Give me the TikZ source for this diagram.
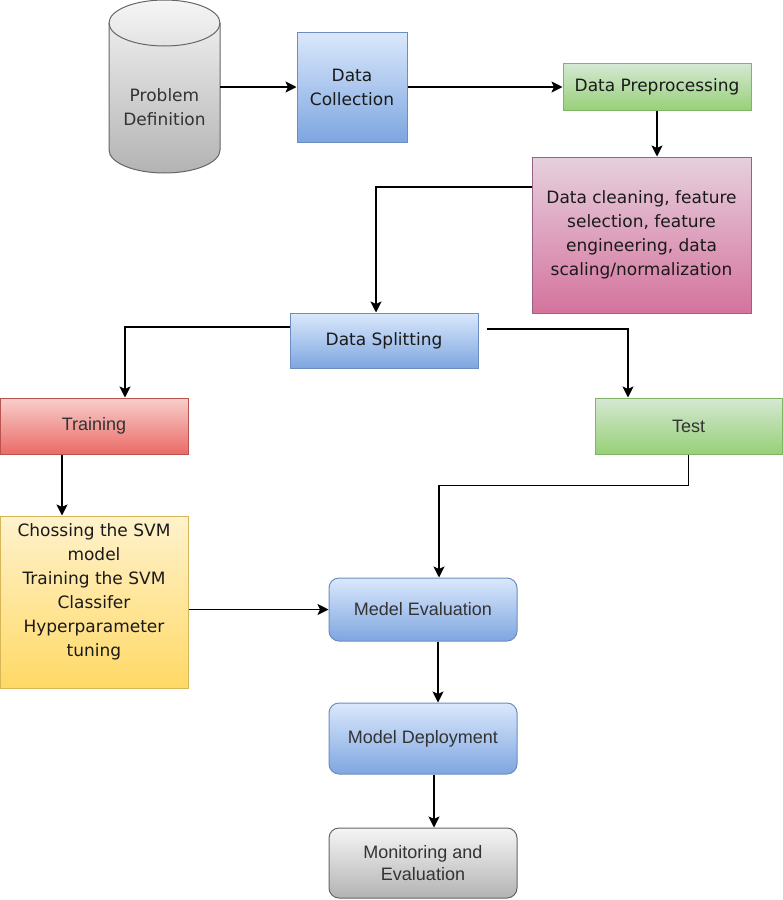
\documentclass[tikz,border=0pt]{standalone}
\usepackage{fontspec}
\setmainfont{DejaVu Sans}
\newfontfamily\helv{Liberation Sans}
\usetikzlibrary{arrows.meta}
\definecolor{blueT}{HTML}{DAE8FC}\definecolor{blueB}{HTML}{7EA6E0}\definecolor{blueS}{HTML}{6C8EBF}
\definecolor{greenT}{HTML}{D5E8D4}\definecolor{greenB}{HTML}{97D077}\definecolor{greenS}{HTML}{82B366}
\definecolor{pinkT}{HTML}{E6D0DE}\definecolor{pinkB}{HTML}{D5739D}\definecolor{pinkS}{HTML}{996185}
\definecolor{redT}{HTML}{F8CECC}\definecolor{redB}{HTML}{EA6B66}\definecolor{redS}{HTML}{B85450}
\definecolor{yelT}{HTML}{FFF2CC}\definecolor{yelB}{HTML}{FFD966}\definecolor{yelS}{HTML}{D6B656}
\definecolor{grayT}{HTML}{F5F5F5}\definecolor{grayB}{HTML}{B3B3B3}\definecolor{grayS}{HTML}{666666}
\definecolor{txtA}{HTML}{1A1A1A}\definecolor{txtB}{HTML}{333333}
\tikzset{
  box/.style={draw, line width=1pt, inner sep=2pt, align=center, text=txtA,
    font=\fontsize{17}{24}\selectfont},
  hbox/.style={draw, line width=1pt, inner sep=2pt, align=center, text=txtB,
    font=\helv\fontsize{18}{22}\selectfont},
  bluebox/.style={top color=blueT, bottom color=blueB, draw=blueS},
  greenbox/.style={top color=greenT, bottom color=greenB, draw=greenS},
  pinkbox/.style={top color=pinkT, bottom color=pinkB, draw=pinkS},
  redbox/.style={top color=redT, bottom color=redB, draw=redS},
  yelbox/.style={top color=yelT, bottom color=yelB, draw=yelS},
  graybox/.style={top color=grayT, bottom color=grayB, draw=grayS},
  rbox/.style={rounded corners=10pt},
  txt/.style={align=center, inner sep=0pt, text=txtA, font=\fontsize{17}{24}\selectfont},
  arr/.style={line width=1.7pt, -{Stealth[length=11pt,width=11pt,inset=2.5pt]}, black},
}
\begin{document}
\begin{tikzpicture}[x=1pt,y=-1pt]
\useasboundingbox[fill=white] (0,0) rectangle (783,900);
% cylinder
\shade[top color=grayT, bottom color=grayB, draw=grayS, line width=1pt]
  (109,23) -- (109,150) arc[start angle=180, end angle=0, x radius=55.5, y radius=23]
  -- (220,23) arc[start angle=0, end angle=-180, x radius=55.5, y radius=23] -- cycle;
\draw[grayS, line width=1pt] (109,23) arc[start angle=180, end angle=0, x radius=55.5, y radius=23];
\node[minimum width=111pt, minimum height=173pt, inner sep=0pt] (pd) at (164.5,87) {};
\node[txt, text=txtB] (pdt) at (164.5,107) {Problem\\Definition};

\node[box, bluebox, minimum width=110pt, minimum height=110pt] (dc) at (352,87) {Data\\Collection};
\node[box, greenbox, minimum width=188pt, minimum height=47pt] (dp) at (657,87) {Data Preprocessing};
\node[box, pinkbox, minimum width=219pt, minimum height=156pt] (pk) at (641.5,235)
  {Data cleaning, feature\\selection, feature\\engineering, data\\scaling/normalization};
\node[box, bluebox, minimum width=188pt, minimum height=55pt] (ds) at (384,340.5) {Data Splitting};
\node[hbox, redbox, minimum width=188pt, minimum height=56pt] (tr) at (94,426) {Training};
\node[hbox, greenbox, minimum width=187pt, minimum height=56pt] (ts) at (688.5,426) {Test};
\node[box, yelbox, minimum width=188pt, minimum height=172pt] (yl) at (94,602) {};
\node[txt] (ylt) at (94,592) {Chossing the SVM\\model\\Training the SVM\\Classifer\\Hyperparameter\\tuning};
\node[hbox, bluebox, rbox, minimum width=188pt, minimum height=63pt] (me) at (423,609.5) {Medel Evaluation};
\node[hbox, bluebox, rbox, minimum width=188pt, minimum height=71pt] (md) at (423,738.5) {Model Deployment};
\node[hbox, graybox, rbox, minimum width=188pt, minimum height=70pt] (mon) at (423,863) {Monitoring and\\Evaluation};

% connectors
\draw[arr] (pd.east) -- (pd.east -| dc.west);
\draw[arr] (dc.east) -- (dc.east -| dp.west);
\draw[arr] (dp.south) -- (dp.south |- pk.north);
\draw[arr] ([yshift=48pt]pk.west) -| ([xshift=-8pt]ds.north);
\draw[arr] ([yshift=13.5pt]ds.west) -| ([xshift=31pt]tr.north);
\draw[arr] ([xshift=8pt,yshift=11.5pt]ds.east) -| ([xshift=-60.5pt]ts.north);
\draw[arr] ([xshift=-32pt]tr.south) -- ([xshift=-32pt]yl.north);
\draw[arr] (ts.south) -- ++(0,31) -| ([xshift=16pt]me.north);
\draw[arr] (me.west -| yl.east) -- (me.west);
\draw[arr] ([xshift=15pt]me.south) -- ([xshift=15pt]md.north);
\draw[arr] ([xshift=11pt]md.south) -- ([xshift=11pt]mon.north);
\end{tikzpicture}
\end{document}
